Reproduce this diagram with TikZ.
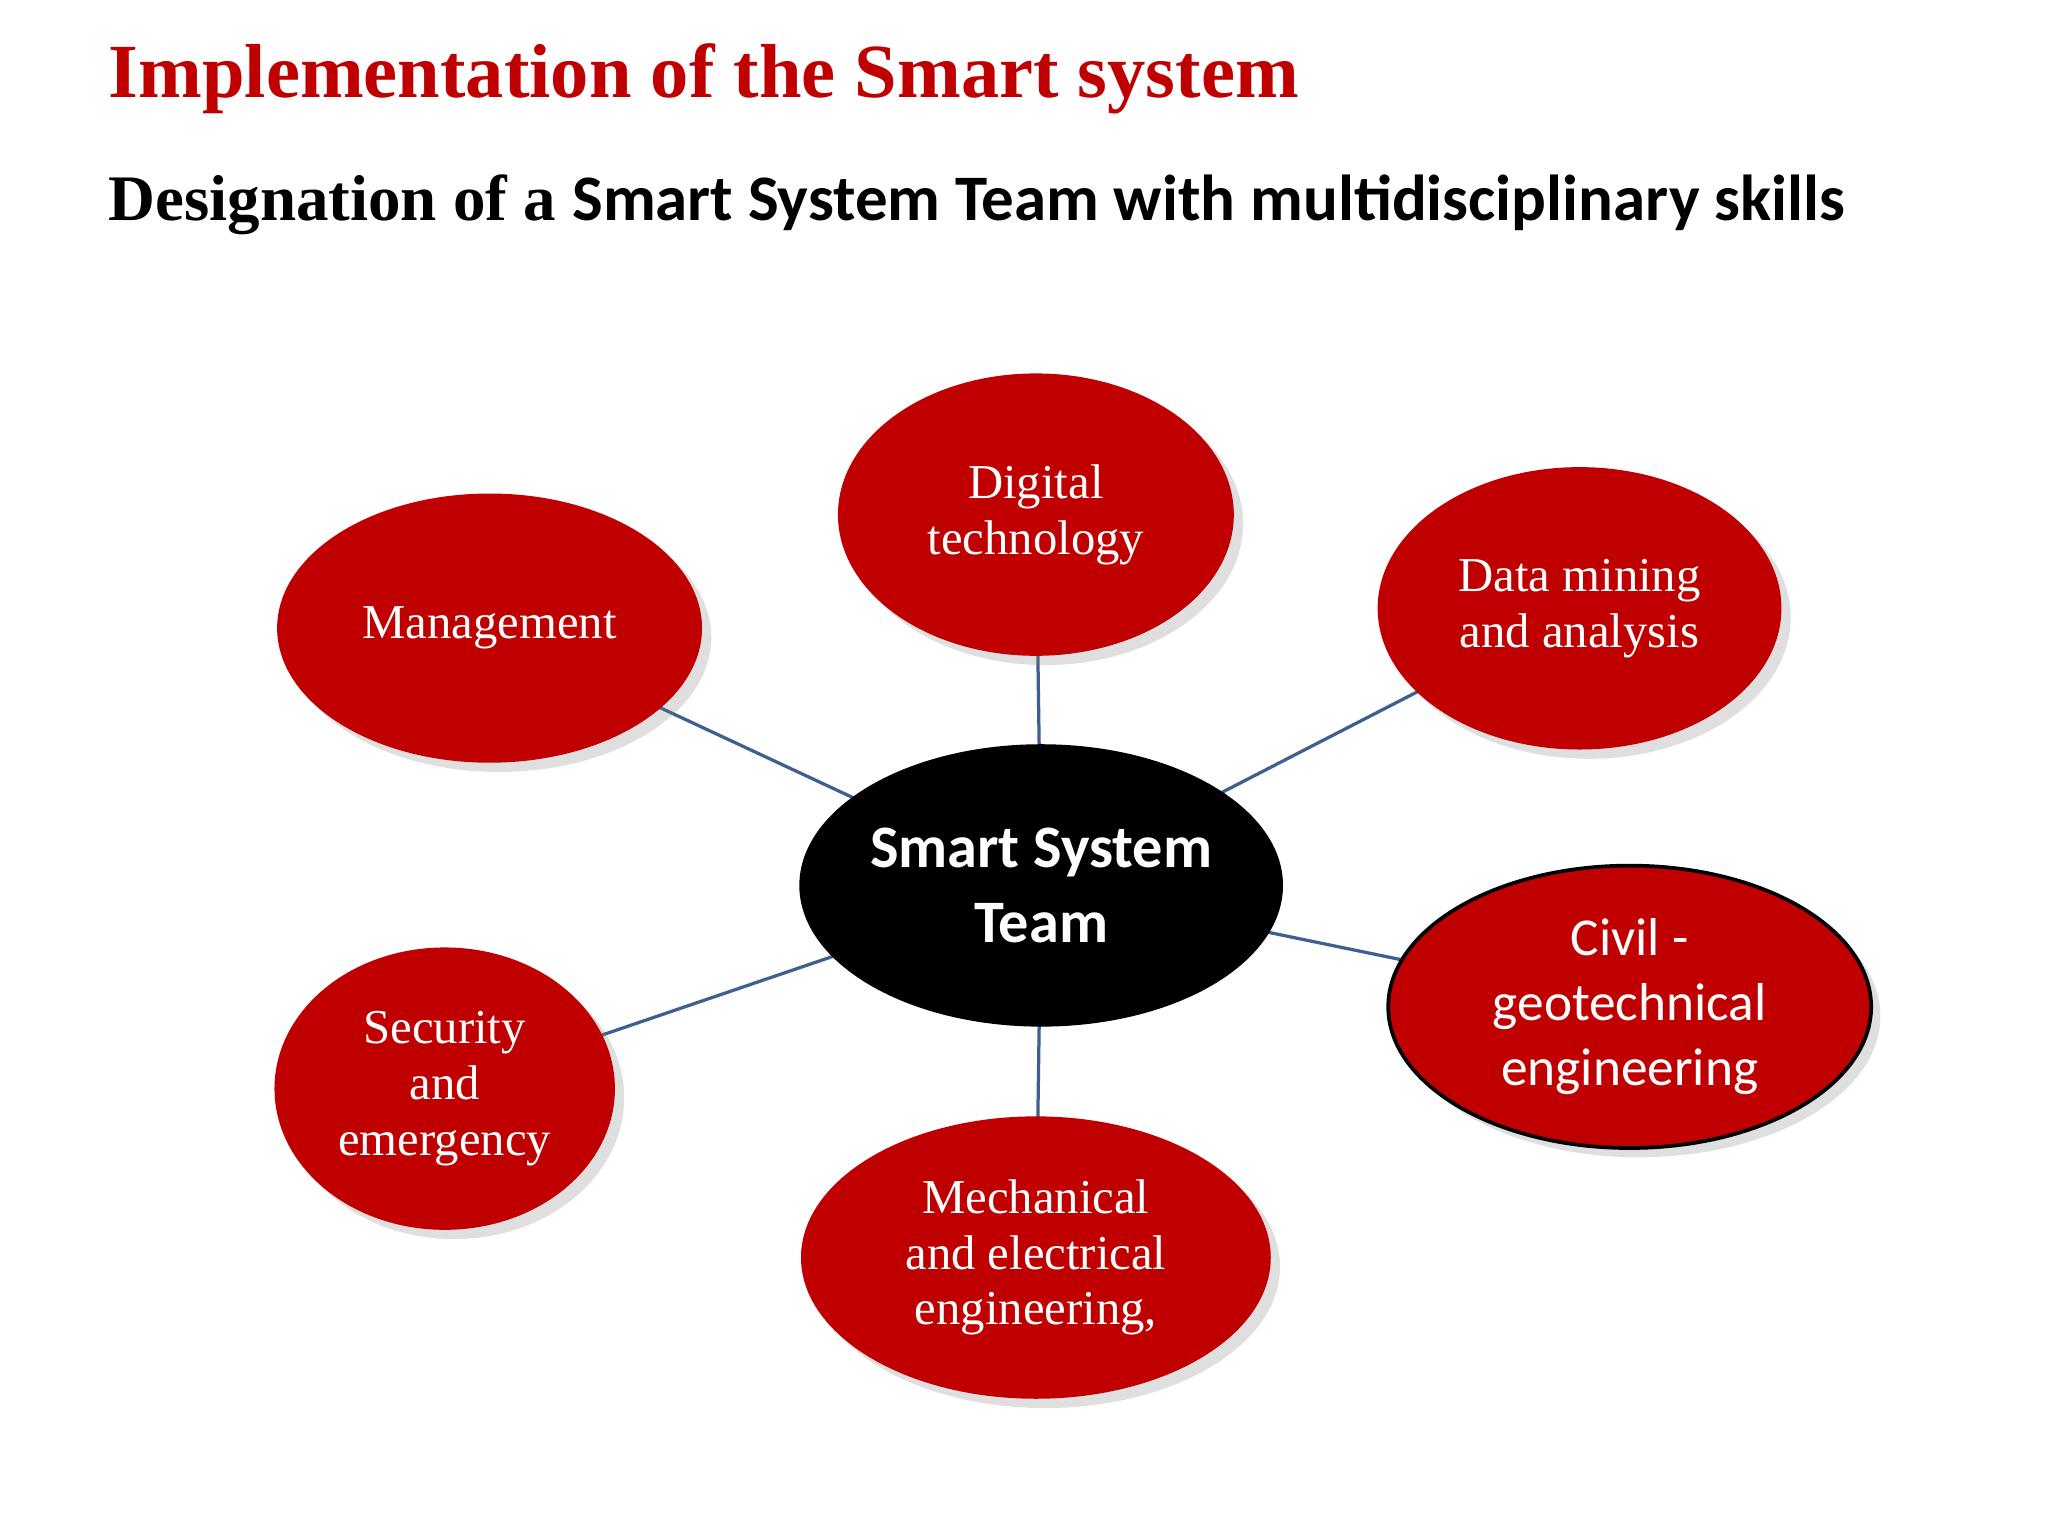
\documentclass[tikz,border=0pt]{standalone}
\usepackage{fontspec}
\setmainfont{Liberation Serif}
\newfontfamily\carl{Carlito}
\usetikzlibrary{shapes.geometric,shadows}
\definecolor{rd}{HTML}{C00000}
\definecolor{ln}{HTML}{3F5F8F}
\begin{document}
\begin{tikzpicture}[x=1cm,y=-1cm,
 bub/.style={ellipse,fill=rd,text=white,align=center,inner sep=0pt,font=\fontsize{10.5pt}{12pt}\selectfont,drop shadow={opacity=0.25,shadow xshift=2pt,shadow yshift=-2pt}},
 con/.style={ln,line width=0.7pt}]
\useasboundingbox (0,0) rectangle (15.52,11.64);
\fill[white] (0,0) rectangle (15.52,11.64);
\node[anchor=west,text=rd,font=\fontsize{16.5pt}{19pt}\selectfont\bfseries] (t) at (0.70,0.60) {Implementation of the Smart system};
\node[anchor=west,font=\fontsize{14pt}{17pt}\selectfont\bfseries] (s) at (0.70,1.55) {Designation of a {\carl Smart System Team with multidisciplinary skills}};
\draw[con] (7.89,6.71) -- (7.85,3.90);
\draw[con] (7.89,6.71) -- (3.71,4.76);
\draw[con] (7.89,6.71) -- (11.97,4.61);
\draw[con] (7.89,6.71) -- (12.35,7.63);
\draw[con] (7.89,6.71) -- (3.37,8.25);
\draw[con] (7.89,6.71) -- (7.85,9.53);
\node[bub,minimum width=3.0cm,minimum height=2.14cm] (dig) at (7.85,3.90) {Digital\\technology};
\node[bub,minimum width=3.22cm,minimum height=2.04cm] (man) at (3.71,4.76) {Management};
\node[bub,minimum width=3.06cm,minimum height=2.14cm] (dat) at (11.97,4.61) {Data mining\\and analysis};
\node[bub,draw=black,line width=0.8pt,minimum width=3.66cm,minimum height=2.14cm,font=\carl\fontsize{11.5pt}{14pt}\selectfont] (civ) at (12.35,7.63) {Civil -\\geotechnical\\engineering};
\node[bub,minimum width=2.58cm,minimum height=2.14cm] (sec) at (3.37,8.25) {Security\\and\\emergency};
\node[bub,minimum width=3.56cm,minimum height=2.14cm] (mec) at (7.85,9.53) {Mechanical\\and electrical\\engineering,};
\node[ellipse,fill=black,text=white,align=center,inner sep=0pt,minimum width=3.64cm,minimum height=2.14cm,font=\carl\bfseries\fontsize{13pt}{16pt}\selectfont] (c) at (7.89,6.71) {Smart System\\Team};
\end{tikzpicture}
\end{document}
